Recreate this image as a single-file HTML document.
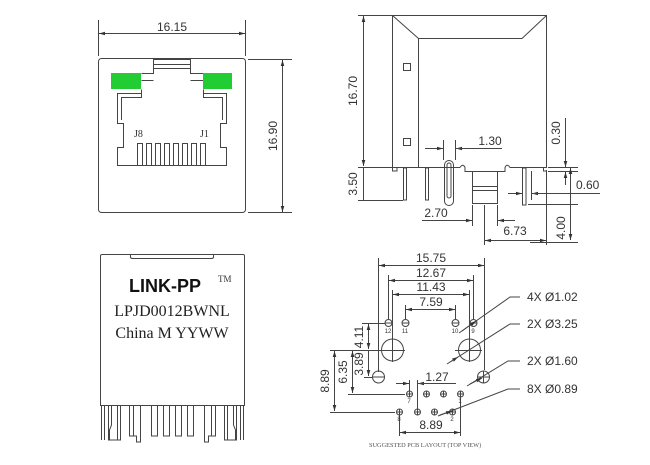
<!DOCTYPE html>
<html><head><meta charset="utf-8"><style>
html,body{margin:0;padding:0;background:#fff;}
svg{display:block;}
text{font-family:"Liberation Sans",sans-serif;fill:#333;}
</style></head><body>
<svg width="650" height="465" viewBox="0 0 650 465" xmlns="http://www.w3.org/2000/svg">
<defs>
<marker id="a" viewBox="0 0 10 10" refX="10" refY="5" markerWidth="6" markerHeight="6" orient="auto-start-reverse"><path d="M0,2 L10,5 L0,8 z" fill="#333"/></marker>
</defs>
<g stroke="#444" stroke-width="1" fill="none">
<rect x="98.5" y="58.5" width="147" height="154" rx="3"/>
<line x1="98.5" y1="20" x2="98.5" y2="56"/><line x1="245.5" y1="20" x2="245.5" y2="56"/>
<line x1="99" y1="33.5" x2="245" y2="33.5" marker-start="url(#a)" marker-end="url(#a)"/>
<line x1="248" y1="59.5" x2="292" y2="59.5"/><line x1="248" y1="212.5" x2="292" y2="212.5"/>
<line x1="282.5" y1="60" x2="282.5" y2="212" marker-start="url(#a)" marker-end="url(#a)"/>
<rect x="153.5" y="59.5" width="37" height="9"/><line x1="153" y1="64.5" x2="191" y2="64.5"/>
<path d="M141.5,73.5 H153.5 V68.5 M190.5,68.5 V73.5 H203.5 M141.5,80.5 H153.5 M190.5,80.5 H203.5"/>
<path d="M141.5,93.5 H117.5 V123.5 H123.5 V147.5 H117.5 V165.5 H226.5 V147.5 H220.5 V123.5 H226.5 V93.5 H203.5"/>
<path d="M141.5,89.5 V97.5 H121.5 V120 M203.5,89.5 V97.5 H222.5 V120"/>
<path d="M137.5,165 V143.5 H142.5 V165 M146.5,165 V143.5 H151.5 V165 M155.5,165 V143.5 H160.5 V165 M164.5,165 V143.5 H169.5 V165 M173.5,165 V143.5 H178.5 V165 M182.5,165 V143.5 H187.5 V165 M191.5,165 V143.5 H196.5 V165 M200.5,165 V143.5 H205.5 V165"/>
</g>
<rect x="111" y="73" width="30" height="16" fill="#22cc33"/>
<rect x="203" y="73" width="29" height="16" fill="#22cc33"/>
<text x="172" y="31" font-size="12" text-anchor="middle">16.15</text>
<text transform="translate(277,136) rotate(-90)" font-size="12" text-anchor="middle">16.90</text>
<text x="134" y="137" font-size="10" style="font-family:'Liberation Serif',serif">J8</text>
<text x="200" y="137" font-size="10" style="font-family:'Liberation Serif',serif">J1</text>

<g stroke="#444" stroke-width="1" fill="none">
<path d="M100.5,405 V256 Q100.5,254.5 102,254.5 H243 Q244.5,254.5 244.5,256 V405"/>
<path d="M130.5,254.5 V257.5 Q131,258.5 133,258.5 H211 Q213,258.5 213.5,257.5 V254.5"/>
<line x1="100" y1="405.5" x2="245" y2="405.5"/>
<path d="M101.5,406 V440 M104.5,406 V440 M108.5,406 V440 H120.5 V406 M111.5,406 V425 L109.5,430 V440 M117.5,406 V440"/>
<path d="M129.5,406 V436 H136.5 V442 H140.5 V406 M133.5,406 V436"/>
<path d="M151.5,406 V436 H157.5 V406 M163.5,406 V436 H169.5 V406 M175.5,406 V436 H181.5 V406 M187.5,406 V436 H193.5 V406"/>
<path d="M204.5,406 V442 H208.5 V436 H215.5 V406 M211.5,406 V436"/>
<path d="M224.5,406 V440 H236.5 V406 M233.5,406 V425 L235.5,430 V440 M227.5,406 V440 M240.5,406 V440 M243.5,406 V440"/>
</g>
<text x="165" y="292" font-size="18" font-weight="bold" text-anchor="middle" style="fill:#111">LINK-PP</text>
<text x="218" y="282" font-size="9" style="font-family:'Liberation Serif',serif">TM</text>
<text x="172" y="316" font-size="16" text-anchor="middle" style="font-family:'Liberation Serif',serif;fill:#222">LPJD0012BWNL</text>
<text x="172" y="338" font-size="16" text-anchor="middle" style="font-family:'Liberation Serif',serif;fill:#222">China M YYWW</text>

<g stroke="#444" stroke-width="1" fill="none">
<path d="M392.5,168 V15.5 H546.5 V168"/>
<path d="M392.5,15.5 L418.5,38.5 H522 L546.5,15.5"/>
<line x1="418.5" y1="38" x2="418.5" y2="168"/>
<rect x="403.5" y="63.5" width="7" height="7"/><rect x="403.5" y="138.5" width="7" height="7"/>
<line x1="358" y1="15.5" x2="392" y2="15.5"/>
<line x1="363.5" y1="16" x2="363.5" y2="166" marker-start="url(#a)" marker-end="url(#a)"/>
<line x1="358" y1="167.5" x2="460" y2="167.5"/>
<line x1="363.5" y1="168" x2="363.5" y2="200"/>
<line x1="358" y1="200.5" x2="403" y2="200.5"/>
<path d="M392.5,167.5 V171 H397 V167.5"/>
<path d="M460,167.5 Q463,163 465,167.5 V171.5 H505 V167.5 Q507,163 510,167.5 H546.5"/>
<path d="M543.5,167.5 V171 H546.5"/>
<rect x="403.5" y="168" width="3" height="32"/>
<rect x="425.5" y="168" width="3" height="32"/>
<rect x="444.5" y="160.5" width="9" height="45" rx="4.5"/>
<rect x="447" y="163" width="4" height="35" rx="2"/>
<rect x="472.5" y="171.5" width="25" height="32"/>
<line x1="472" y1="186.5" x2="497" y2="186.5"/><line x1="472" y1="190.5" x2="497" y2="190.5"/>
<rect x="522.5" y="168" width="3.5" height="37"/>
<line x1="531.5" y1="171" x2="531.5" y2="200"/>
<line x1="443.5" y1="140" x2="443.5" y2="160"/><line x1="455.5" y1="140" x2="455.5" y2="160"/>
<line x1="425" y1="148.5" x2="443" y2="148.5" marker-end="url(#a)"/>
<line x1="470" y1="148.5" x2="456" y2="148.5" marker-end="url(#a)"/>
<line x1="456" y1="148.5" x2="502" y2="148.5"/>
<line x1="548" y1="167.5" x2="578" y2="167.5"/>
<line x1="548" y1="171.5" x2="578" y2="171.5"/>
<line x1="565.5" y1="118" x2="565.5" y2="167" marker-end="url(#a)"/>
<line x1="565.5" y1="185" x2="565.5" y2="172" marker-end="url(#a)"/>
<line x1="570.5" y1="168" x2="570.5" y2="240" marker-start="url(#a)" marker-end="url(#a)"/>
<line x1="528" y1="204.5" x2="578" y2="204.5"/>
<line x1="530" y1="242.5" x2="578" y2="242.5"/>
<line x1="508" y1="193.5" x2="522" y2="193.5" marker-end="url(#a)"/>
<line x1="548" y1="193.5" x2="532" y2="193.5" marker-end="url(#a)"/>
<line x1="532" y1="193.5" x2="600" y2="193.5"/>
<line x1="472.5" y1="205" x2="472.5" y2="226"/><line x1="497.5" y1="205" x2="497.5" y2="226"/>
<line x1="484.5" y1="205" x2="484.5" y2="245"/><line x1="546.5" y1="170" x2="546.5" y2="245"/>
<line x1="422" y1="220.5" x2="472" y2="220.5" marker-end="url(#a)"/>
<line x1="515" y1="220.5" x2="498" y2="220.5" marker-end="url(#a)"/>
<line x1="485" y1="240.5" x2="546" y2="240.5" marker-start="url(#a)" marker-end="url(#a)"/>
</g>
<text transform="translate(357,91) rotate(-90)" font-size="12" text-anchor="middle">16.70</text>
<text transform="translate(357,184) rotate(-90)" font-size="12" text-anchor="middle">3.50</text>
<text x="490" y="145" font-size="12" text-anchor="middle">1.30</text>
<text transform="translate(560,133) rotate(-90)" font-size="12" text-anchor="middle">0.30</text>
<text x="576" y="189" font-size="12">0.60</text>
<text x="436" y="217" font-size="12" text-anchor="middle">2.70</text>
<text x="515" y="235" font-size="12" text-anchor="middle">6.73</text>
<text transform="translate(565,228) rotate(-90)" font-size="12" text-anchor="middle">4.00</text>

<g stroke="#444" stroke-width="1" fill="none">
<line x1="378.5" y1="258" x2="378.5" y2="372"/><line x1="484.5" y1="258" x2="484.5" y2="370"/>
<line x1="379" y1="265.5" x2="484" y2="265.5" marker-start="url(#a)" marker-end="url(#a)"/>
<line x1="388.5" y1="275" x2="388.5" y2="319"/><line x1="473.5" y1="275" x2="473.5" y2="319"/>
<line x1="389" y1="280.5" x2="473" y2="280.5" marker-start="url(#a)" marker-end="url(#a)"/>
<line x1="392.5" y1="290" x2="392.5" y2="362"/><line x1="469.5" y1="290" x2="469.5" y2="362"/>
<line x1="393" y1="294.5" x2="469" y2="294.5" marker-start="url(#a)" marker-end="url(#a)"/>
<line x1="405.5" y1="305" x2="405.5" y2="319"/><line x1="455.5" y1="305" x2="455.5" y2="319"/>
<line x1="406" y1="309.5" x2="455" y2="309.5" marker-start="url(#a)" marker-end="url(#a)"/>
<circle cx="388.5" cy="323" r="3.5"/><circle cx="405.5" cy="323" r="3.5"/><circle cx="455.5" cy="323" r="3.5"/><circle cx="473.5" cy="323" r="3.5"/>
<path d="M385,323H392M402,323H409M452,323H459M470,323H477"/>
<circle cx="392.5" cy="350" r="11"/><circle cx="469.5" cy="350" r="11"/>
<line x1="330" y1="350.5" x2="405" y2="350.5"/><line x1="455" y1="350.5" x2="482" y2="350.5"/>
<circle cx="378.5" cy="377" r="6"/><circle cx="483.5" cy="377" r="6"/>
<path d="M372,377H385M477,377H490M483.5,371V383"/>
<circle cx="409.5" cy="394" r="3"/><circle cx="426.5" cy="394" r="3"/><circle cx="443.5" cy="394" r="3"/><circle cx="460.5" cy="394" r="3"/>
<circle cx="399.5" cy="412" r="3"/><circle cx="417.5" cy="412" r="3"/><circle cx="434.5" cy="412" r="3"/><circle cx="452.5" cy="412" r="3"/>
<path d="M406,394H413M423,394H430M440,394H447M457,394H464M396,412H403M414,412H421M431,412H438M449,412H456"/>
<path d="M409.5,391V397M426.5,391V397M443.5,391V397M460.5,391V397M399.5,409V415M417.5,409V415M434.5,409V415M452.5,409V415"/>
<line x1="362" y1="323.5" x2="385" y2="323.5"/>
<line x1="368.5" y1="324" x2="368.5" y2="349" marker-start="url(#a)" marker-end="url(#a)"/>
<line x1="368.5" y1="351" x2="368.5" y2="376" marker-end="url(#a)"/>
<line x1="364" y1="377.5" x2="372" y2="377.5"/>
<line x1="352.5" y1="351" x2="352.5" y2="393" marker-start="url(#a)" marker-end="url(#a)"/>
<line x1="348" y1="394.5" x2="405" y2="394.5"/>
<line x1="334.5" y1="351" x2="334.5" y2="411" marker-start="url(#a)" marker-end="url(#a)"/>
<line x1="330" y1="412.5" x2="395" y2="412.5"/>
<line x1="409.5" y1="380" x2="409.5" y2="391"/><line x1="417.5" y1="380" x2="417.5" y2="409"/>
<line x1="396" y1="383.5" x2="409" y2="383.5" marker-end="url(#a)"/>
<line x1="432" y1="383.5" x2="418" y2="383.5" marker-end="url(#a)"/>
<line x1="418" y1="383.5" x2="456" y2="383.5"/>
<line x1="399.5" y1="415" x2="399.5" y2="436"/><line x1="460.5" y1="397" x2="460.5" y2="436"/>
<line x1="400" y1="432.5" x2="460" y2="432.5" marker-start="url(#a)" marker-end="url(#a)"/>
<path d="M520,297 H510 L459,333" /><line x1="462" y1="331" x2="476" y2="321" marker-end="url(#a)"/>
<path d="M520,324 H510 L447,364"/><line x1="450" y1="362" x2="458" y2="357" marker-end="url(#a)"/>
<path d="M520,361 H508 L467,386"/><line x1="470" y1="384" x2="482" y2="378" marker-end="url(#a)"/>
<path d="M520,389 H508 L438,416"/><line x1="440" y1="415" x2="452" y2="411" marker-end="url(#a)"/>
</g>
<g font-size="12">
<text x="431" y="262" text-anchor="middle">15.75</text>
<text x="431" y="277" text-anchor="middle">12.67</text>
<text x="431" y="291" text-anchor="middle">11.43</text>
<text x="431" y="306" text-anchor="middle">7.59</text>
<text x="437" y="381" text-anchor="middle">1.27</text>
<text x="431" y="429" text-anchor="middle">8.89</text>
<text transform="translate(363,337) rotate(-90)" text-anchor="middle">4.11</text>
<text transform="translate(363,364) rotate(-90)" text-anchor="middle">3.89</text>
<text transform="translate(347,372) rotate(-90)" text-anchor="middle">6.35</text>
<text transform="translate(329,381) rotate(-90)" text-anchor="middle">8.89</text>
<text x="527" y="301">4X  Ø1.02</text>
<text x="527" y="328">2X  Ø3.25</text>
<text x="527" y="365">2X  Ø1.60</text>
<text x="527" y="393">8X  Ø0.89</text>
</g>
<g font-size="6" style="font-family:'Liberation Serif',serif" text-anchor="middle">
<text x="388" y="333">12</text><text x="405" y="333">11</text><text x="455" y="333">10</text><text x="473" y="333">9</text>
<text x="409" y="403">7</text><text x="460" y="403">1</text><text x="399" y="421">8</text><text x="452" y="421">2</text>
</g>
<text x="369" y="447" font-size="6.3" style="font-family:'Liberation Serif',serif;fill:#555">SUGGESTED PCB LAYOUT  (TOP VIEW)</text>
</svg>
</body></html>
